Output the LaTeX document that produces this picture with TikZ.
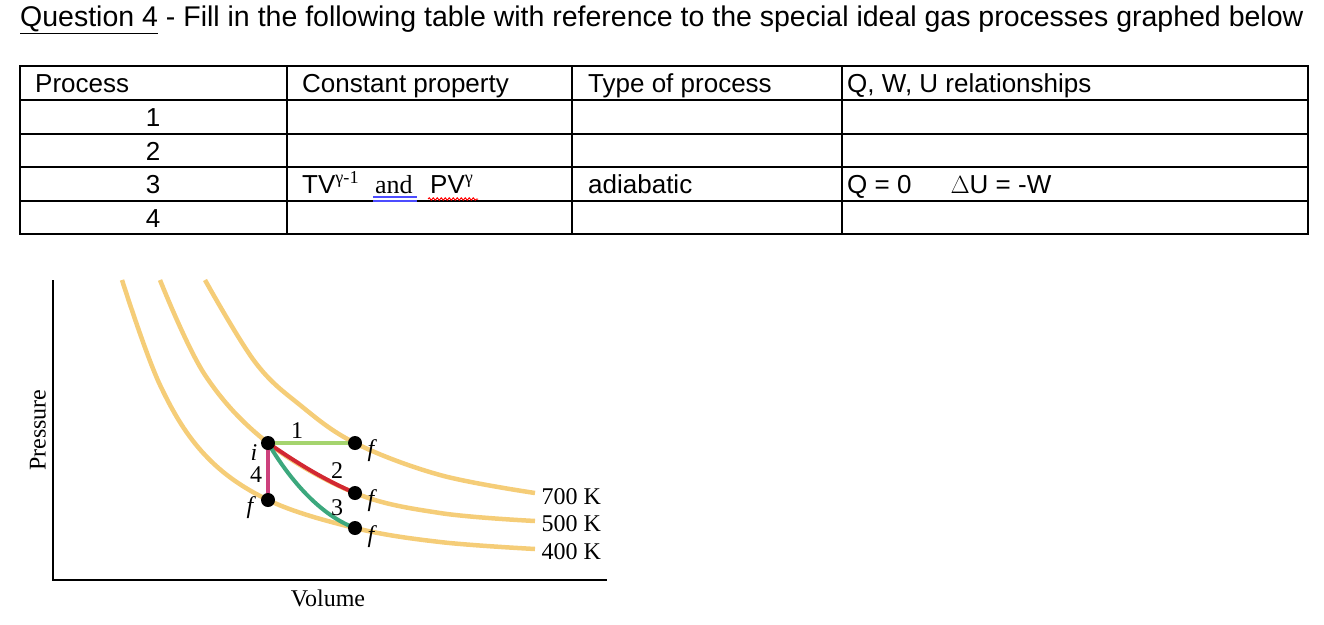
\documentclass[tikz,border=0pt]{standalone}
\usepackage{fontspec}
\setmainfont{Liberation Sans}
\newfontfamily\serif{Liberation Serif}
\usetikzlibrary{decorations.pathmorphing}
\definecolor{iso}{RGB}{245,205,120}
\definecolor{pone}{RGB}{165,212,110}
\definecolor{ptwo}{RGB}{210,40,50}
\definecolor{pthree}{RGB}{60,168,125}
\definecolor{pfour}{RGB}{205,65,125}
\begin{document}
\begin{tikzpicture}[x=1pt,y=-1pt,
  cell/.style={anchor=base west,inner sep=0pt,font=\fontsize{26}{26}\selectfont},
  ccell/.style={anchor=base,inner sep=0pt,font=\fontsize{26}{26}\selectfont},
  scell/.style={anchor=base west,inner sep=0pt,font=\serif\fontsize{26}{26}\selectfont},
  gl/.style={font=\serif\fontsize{24}{24}\selectfont},
  isoline/.style={iso,line width=4.5pt},
  proc/.style={line width=4pt},
  dot/.style={circle,fill=black,inner sep=0pt,minimum size=14pt}]
\useasboundingbox (0,0) rectangle (1324,624);
% title
\node[anchor=base west,inner sep=0,font=\fontsize{28.5}{28.5}\selectfont] (title) at (20,26)
 {\underline{Question 4} - Fill in the following table with reference to the special ideal gas processes graphed below};
% table
\draw[line width=1.8pt] (20,66) rectangle (1308,234);
\foreach \y in {100,134,167,201} \draw[line width=1.8pt] (20,\y) -- (1308,\y);
\foreach \x in {287,572,842} \draw[line width=1.8pt] (\x,66) -- (\x,234);
\node[cell] (h1) at (35,92) {Process};
\node[cell] (h2) at (302,92) {Constant property};
\node[cell] (h3) at (588,92) {Type of process};
\node[cell] (h4) at (847,92) {Q, W, U relationships};
\node[ccell] (r1) at (153,126) {1};
\node[ccell] (r2) at (153,160) {2};
\node[ccell] (r3) at (153,193) {3};
\node[ccell] (r4) at (153,227) {4};
\node[cell] (c3) at (302,193) {TV\textsuperscript{\serif γ-1}};
\node[scell] (and) at (375,193) {and};
\node[cell] (pv) at (430,193) {PV\textsuperscript{\serif γ}};
\draw[blue!70,line width=1.5pt] (373,197) -- (417,197) (373,201) -- (417,201);
\draw[red,line width=1pt,decorate,decoration={snake,amplitude=1.2pt,segment length=4pt}] (428,199) -- (478,199);
\node[cell] (t3) at (588,193) {adiabatic};
\node[cell] (q3) at (847,193) {Q = 0\hspace{1.5em}$\Delta$U = -W};
% axes
\draw[line width=1.3pt] (53,280) -- (53,580) -- (607,580);
\node[gl] (vol) at (328,598) {Volume};
\node[gl,rotate=90] (pres) at (38,430) {Pressure};
% isotherms
\draw[isoline] plot[smooth,tension=0.6] coordinates {(205,280) (255,362) (300,405) (355,443) (440,475) (535,493)};
\draw[isoline] plot[smooth,tension=0.6] coordinates {(160,280) (205,375) (268,443) (355,493) (440,513) (535,521)};
\draw[isoline] plot[smooth,tension=0.6] coordinates {(122,280) (160,385) (205,455) (268,500) (355,528) (440,542) (535,549)};
\node[gl,anchor=west] (k7) at (538,497) {700 K};
\node[gl,anchor=west] (k5) at (538,524) {500 K};
\node[gl,anchor=west] (k4) at (538,552) {400 K};
% points
\coordinate (i) at (268,443);
\coordinate (f1) at (355,443);
\coordinate (f2) at (355,493);
\coordinate (f3) at (355,528);
\coordinate (f4) at (268,500);
\draw[pone,proc] (i) -- (f1);
\draw[ptwo,proc] (i) .. controls (300,465) and (325,480) .. (f2);
\draw[pthree,proc] (i) .. controls (290,480) and (320,515) .. (f3);
\draw[pfour,proc] (i) -- (f4);
\foreach \p in {i,f1,f2,f3,f4} \node[dot] at (\p) {};
\node[gl] (li) at (254,453) {\itshape i};
\node[gl] (l1) at (297,431) {1};
\node[gl] (l2) at (337,471) {2};
\node[gl] (l3) at (337,508) {3};
\node[gl] (l4) at (256,475) {4};
\node[gl] (lf1) at (371,451) {\itshape f};
\node[gl] (lf2) at (371,501) {\itshape f};
\node[gl] (lf3) at (371,537) {\itshape f};
\node[gl] (lf4) at (250,508) {\itshape f};
\end{tikzpicture}
\end{document}
